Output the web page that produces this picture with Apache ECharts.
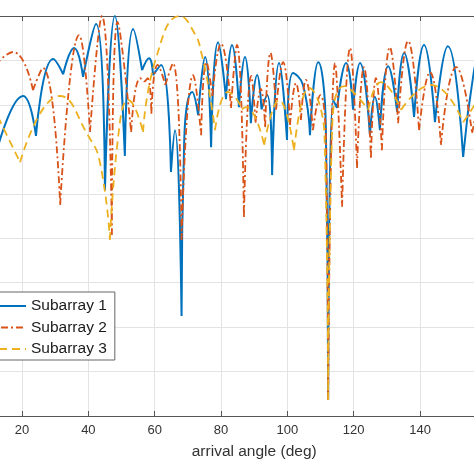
<!DOCTYPE html>
<html>
<head>
<meta charset="utf-8">
<script src="https://cdn.jsdelivr.net/npm/echarts@6/dist/echarts.min.js"></script>
<style>
  html, body { margin: 0; padding: 0; background: #fff; }
  #chart { width: 474px; height: 474px; }
</style>
</head>
<body>
<div id="chart"></div>
<script>
// arrival angle (deg) / gain (dB), peaks and nulls
const seriesNames = ['Subarray 1', 'Subarray 2', 'Subarray 3'];

const subarray1 = [
  [12.5,-30],[20.3,-18],[24.2,-27],[29.4,-9.7],[32.4,-13.1],[35.7,-7.2],[38.4,-13.7],
  [42.3,-1.8],[45.0,-39.2],[48.0,0],[51.0,-31.5],[53.5,-2.9],[56.2,-12.2],[58.3,-9.5],
  [59.5,-13.3],[61.9,-11],[64.9,-35.1],[66.1,-25.7],[68.1,-67.5],[68.9,-28],[71.3,-17.1],[73.1,-22.3],
  [75.2,-9.2],[77.0,-29.5],[79.1,-5.9],[81.5,-18.7],[83.3,-6.5],[85.4,-20.5],[87.2,-9.2],
  [89.0,-24.1],[90.9,-13.3],[92.2,-21],[93.9,-17.8],[95.4,-35.8],[97.5,-10.6],[99.9,-27.9],
  [101.7,-12.8],[104.7,-15.5],[106.8,-26.8],[109.3,-10.4],[111.6,-25],[112.3,-86.4],[113.8,-18.9],
  [115.0,-20.7],[117.7,-10.6],[119.8,-21.1],[121.9,-10.6],[124.9,-26.8],[126.4,-18.2],
  [127.9,-25.7],[130.4,-11.3],[133.1,-21.6],[135.2,-8.3],[138.2,-22.7],[141.2,-6.5],
  [144.5,-23.9],[148.4,-6.8],[153.0,-31.7],[156.3,-12.2],[158,-9]
];

const subarray2 = [
  [12,-11],[17.3,-8.1],[23.3,-16.7],[26.3,-11.7],[31.5,-42.5],[37.2,-4.3],[40.5,-26.1],
  [44.1,0],[47.1,-49.3],[48.8,-1.3],[52.9,-26.1],[55.6,-14],[57.0,-14.8],[57.9,-14],
  [59.0,-22],[60.9,-11],[63.2,-15.5],[65.5,-10.6],[68.1,-50.4],[71.6,-13.3],[74.0,-26.8],
  [75.6,-10.4],[77.4,-18],[80.0,-6.2],[83.0,-20.7],[84.8,-6.5],[86.9,-45.2],[89.1,-13.5],
  [90.4,-24],[92.0,-16.4],[93.3,-25],[94.9,-8.3],[96.6,-21.1],[98.7,-10.4],
  [100.8,-24.5],[102.6,-15.1],[104.1,-23.4],[105.6,-14.4],[107.7,-25.7],[109.9,-17.8],
  [111.7,-30],[112.3,-86.4],[114.4,-10.6],[116.5,-42.9],[118.9,-7.2],[121.0,-34.2],[123.1,-11.5],
  [125.2,-31.9],[126.7,-14.0],[128.5,-30.2],[130.9,-7.0],[133.4,-24.1],[136.4,-5.6],
  [139.7,-25.7],[143.0,-12.6],[146.3,-29.0],[150.9,-11.5],[155.7,-26.3],[158,-18]
];

const subarray3 = [
  [11,-20],[19.4,-32.9],[31.4,-18.0],[40.0,-27],[43.5,-33],[46.5,-50.4],[49.5,-24],
  [52.0,-18.9],[56.5,-26.1],[60.4,-9.5],[67.6,0],[72.3,-4.3],[74.0,-8.1],[76.1,-15.5],[78.2,-25.7],
  [82.1,-17.1],[84.5,-18.5],[86.3,-21],[87.5,-20.5],[93.0,-29],[97.5,-18.9],[102.0,-30.2],
  [106.5,-16.2],[111.2,-27],[112.3,-86.4],[113.4,-28],[117.2,-15.8],[124.4,-21.1],[128.2,-14.9],[134.3,-21.1],
  [143.3,-15.5],[153.0,-23.9],[156.3,-20.2],[158,-18]
];

// break the line at every local minimum so the nulls come out as sharp cusps
function cusped(points) {
  const out = [];
  points.forEach(function (p, i) {
    out.push(p);
    const prev = points[i - 1], next = points[i + 1];
    if (prev && next && p[1] < prev[1] && p[1] < next[1]) {
      out.push([p[0], null]);
      out.push(p);
    }
  });
  return out;
}

const chart = echarts.init(document.getElementById('chart'), null, { renderer: 'canvas' });

const font = 'Liberation Sans, Arial, Helvetica, sans-serif';

const option = {
  animation: false,
  backgroundColor: '#ffffff',
  grid: {
    left: -44.3, right: -78.7, top: 16, bottom: 58,
    containLabel: false,
    outerBoundsMode: 'none'
  },
  legend: {
    data: seriesNames,
    orient: 'vertical',
    left: -21,
    top: 292,
    itemWidth: 40,
    itemHeight: 14,
    itemGap: 5.5,
    padding: [6, 8, 3, 6],
    borderColor: '#666',
    borderWidth: 1,
    backgroundColor: '#fff',
    itemStyle: { opacity: 0 },
    textStyle: { fontFamily: font, fontSize: 15.5, color: '#1a1a1a' }
  },
  xAxis: [{
    type: 'value',
    min: 0,
    max: 180,
    interval: 20,
    name: 'arrival angle (deg)',
    nameLocation: 'middle',
    nameGap: 28,
    nameTextStyle: { fontFamily: font, fontSize: 15.5, color: '#333' },
    axisLine: { onZero: false, lineStyle: { color: '#555', width: 1 } },
    axisTick: { inside: true, length: 5, lineStyle: { color: '#555' } },
    axisLabel: { fontFamily: font, fontSize: 13, color: '#333', margin: 8 },
    splitLine: { show: true, lineStyle: { color: '#e3e3e3', width: 1 } }
  }, {
    type: 'value',
    position: 'top',
    min: 0,
    max: 180,
    interval: 20,
    axisLine: { onZero: false, lineStyle: { color: '#555', width: 1 } },
    axisTick: { inside: true, length: 5, lineStyle: { color: '#555' } },
    axisLabel: { show: false },
    splitLine: { show: false }
  }],
  yAxis: {
    type: 'value',
    min: -90,
    max: 0,
    interval: 10,
    axisLine: { show: false },
    axisTick: { show: false },
    axisLabel: { show: false },
    splitLine: { show: true, lineStyle: { color: '#e3e3e3', width: 1 } }
  },
  series: [{
    name: seriesNames[0],
    type: 'line',
    data: cusped(subarray1),
    showSymbol: false,
    symbol: 'none',
    smooth: 0.5,
    lineStyle: { color: '#0072BD', width: 2 },
    itemStyle: { color: '#0072BD' }
  }, {
    name: seriesNames[1],
    type: 'line',
    data: cusped(subarray2),
    showSymbol: false,
    symbol: 'none',
    smooth: 0.5,
    lineStyle: { color: '#D95319', width: 1.8, type: [7, 3, 2, 3] },
    itemStyle: { color: '#D95319' }
  }, {
    name: seriesNames[2],
    type: 'line',
    data: cusped(subarray3),
    showSymbol: false,
    symbol: 'none',
    smooth: 0.5,
    lineStyle: { color: '#EDB120', width: 1.8, type: [8, 5] },
    itemStyle: { color: '#EDB120' }
  }]
};

chart.setOption(option);
</script>
</body>
</html>
